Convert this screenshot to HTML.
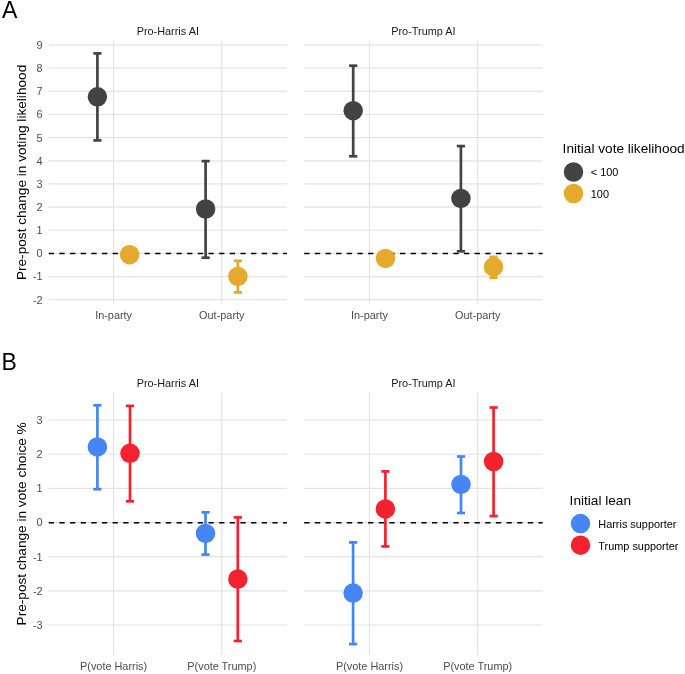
<!DOCTYPE html>
<html><head><meta charset="utf-8"><style>
html,body{margin:0;padding:0;background:#fff;}
body{width:685px;height:674px;overflow:hidden;}
svg{display:block;font-family:"Liberation Sans", sans-serif;will-change:transform;}
</style></head><body>
<svg width="685" height="674" viewBox="0 0 685 674">
<rect width="685" height="674" fill="#fff"/>
<line x1="48.7" y1="299.70" x2="286.9" y2="299.70" stroke="#E3E3E3" stroke-width="1.2"/>
<line x1="48.7" y1="276.55" x2="286.9" y2="276.55" stroke="#E3E3E3" stroke-width="1.2"/>
<line x1="48.7" y1="253.40" x2="286.9" y2="253.40" stroke="#E3E3E3" stroke-width="1.2"/>
<line x1="48.7" y1="230.25" x2="286.9" y2="230.25" stroke="#E3E3E3" stroke-width="1.2"/>
<line x1="48.7" y1="207.10" x2="286.9" y2="207.10" stroke="#E3E3E3" stroke-width="1.2"/>
<line x1="48.7" y1="183.95" x2="286.9" y2="183.95" stroke="#E3E3E3" stroke-width="1.2"/>
<line x1="48.7" y1="160.80" x2="286.9" y2="160.80" stroke="#E3E3E3" stroke-width="1.2"/>
<line x1="48.7" y1="137.65" x2="286.9" y2="137.65" stroke="#E3E3E3" stroke-width="1.2"/>
<line x1="48.7" y1="114.50" x2="286.9" y2="114.50" stroke="#E3E3E3" stroke-width="1.2"/>
<line x1="48.7" y1="91.35" x2="286.9" y2="91.35" stroke="#E3E3E3" stroke-width="1.2"/>
<line x1="48.7" y1="68.20" x2="286.9" y2="68.20" stroke="#E3E3E3" stroke-width="1.2"/>
<line x1="48.7" y1="45.05" x2="286.9" y2="45.05" stroke="#E3E3E3" stroke-width="1.2"/>
<line x1="113.6" y1="41.3" x2="113.6" y2="303.6" stroke="#E3E3E3" stroke-width="1.2"/>
<line x1="221.8" y1="41.3" x2="221.8" y2="303.6" stroke="#E3E3E3" stroke-width="1.2"/>
<line x1="48.7" y1="253.5" x2="286.9" y2="253.5" stroke="#000" stroke-width="1.4" stroke-dasharray="5.3 5.35"/>
<line x1="304.2" y1="299.70" x2="542.6" y2="299.70" stroke="#E3E3E3" stroke-width="1.2"/>
<line x1="304.2" y1="276.55" x2="542.6" y2="276.55" stroke="#E3E3E3" stroke-width="1.2"/>
<line x1="304.2" y1="253.40" x2="542.6" y2="253.40" stroke="#E3E3E3" stroke-width="1.2"/>
<line x1="304.2" y1="230.25" x2="542.6" y2="230.25" stroke="#E3E3E3" stroke-width="1.2"/>
<line x1="304.2" y1="207.10" x2="542.6" y2="207.10" stroke="#E3E3E3" stroke-width="1.2"/>
<line x1="304.2" y1="183.95" x2="542.6" y2="183.95" stroke="#E3E3E3" stroke-width="1.2"/>
<line x1="304.2" y1="160.80" x2="542.6" y2="160.80" stroke="#E3E3E3" stroke-width="1.2"/>
<line x1="304.2" y1="137.65" x2="542.6" y2="137.65" stroke="#E3E3E3" stroke-width="1.2"/>
<line x1="304.2" y1="114.50" x2="542.6" y2="114.50" stroke="#E3E3E3" stroke-width="1.2"/>
<line x1="304.2" y1="91.35" x2="542.6" y2="91.35" stroke="#E3E3E3" stroke-width="1.2"/>
<line x1="304.2" y1="68.20" x2="542.6" y2="68.20" stroke="#E3E3E3" stroke-width="1.2"/>
<line x1="304.2" y1="45.05" x2="542.6" y2="45.05" stroke="#E3E3E3" stroke-width="1.2"/>
<line x1="369.5" y1="41.3" x2="369.5" y2="303.6" stroke="#E3E3E3" stroke-width="1.2"/>
<line x1="477.7" y1="41.3" x2="477.7" y2="303.6" stroke="#E3E3E3" stroke-width="1.2"/>
<line x1="304.2" y1="253.5" x2="542.6" y2="253.5" stroke="#000" stroke-width="1.4" stroke-dasharray="5.3 5.35"/>
<text x="167.80" y="35.40" font-size="10.9" fill="#1A1A1A" text-anchor="middle">Pro-Harris AI</text>
<text x="423.40" y="35.40" font-size="10.9" fill="#1A1A1A" text-anchor="middle">Pro-Trump AI</text>
<text x="42.6" y="303.60" font-size="10.9" fill="#4D4D4D" text-anchor="end">-2</text>
<text x="42.6" y="280.45" font-size="10.9" fill="#4D4D4D" text-anchor="end">-1</text>
<text x="42.6" y="257.30" font-size="10.9" fill="#4D4D4D" text-anchor="end">0</text>
<text x="42.6" y="234.15" font-size="10.9" fill="#4D4D4D" text-anchor="end">1</text>
<text x="42.6" y="211.00" font-size="10.9" fill="#4D4D4D" text-anchor="end">2</text>
<text x="42.6" y="187.85" font-size="10.9" fill="#4D4D4D" text-anchor="end">3</text>
<text x="42.6" y="164.70" font-size="10.9" fill="#4D4D4D" text-anchor="end">4</text>
<text x="42.6" y="141.55" font-size="10.9" fill="#4D4D4D" text-anchor="end">5</text>
<text x="42.6" y="118.40" font-size="10.9" fill="#4D4D4D" text-anchor="end">6</text>
<text x="42.6" y="95.25" font-size="10.9" fill="#4D4D4D" text-anchor="end">7</text>
<text x="42.6" y="72.10" font-size="10.9" fill="#4D4D4D" text-anchor="end">8</text>
<text x="42.6" y="48.95" font-size="10.9" fill="#4D4D4D" text-anchor="end">9</text>
<text x="113.6" y="318.7" font-size="10.9" fill="#4D4D4D" text-anchor="middle">In-party</text>
<text x="221.8" y="318.7" font-size="10.9" fill="#4D4D4D" text-anchor="middle">Out-party</text>
<text x="369.5" y="318.7" font-size="10.9" fill="#4D4D4D" text-anchor="middle">In-party</text>
<text x="477.7" y="318.7" font-size="10.9" fill="#4D4D4D" text-anchor="middle">Out-party</text>
<text x="0" y="0" transform="translate(26,172.45) rotate(-90)" font-size="13.65" fill="#000" text-anchor="middle">Pre-post change in voting likelihood</text>
<line x1="97.4" y1="53.4" x2="97.4" y2="140.4" stroke="#434343" stroke-width="2.7"/>
<line x1="93.30" y1="53.4" x2="101.50" y2="53.4" stroke="#434343" stroke-width="2.7"/>
<line x1="93.30" y1="140.4" x2="101.50" y2="140.4" stroke="#434343" stroke-width="2.7"/>
<circle cx="97.4" cy="96.8" r="9.75" fill="#434343"/>
<circle cx="129.6" cy="254.7" r="9.75" fill="#E5A92E"/>
<line x1="205.6" y1="161.1" x2="205.6" y2="257.7" stroke="#434343" stroke-width="2.7"/>
<line x1="201.50" y1="161.1" x2="209.70" y2="161.1" stroke="#434343" stroke-width="2.7"/>
<line x1="201.50" y1="257.7" x2="209.70" y2="257.7" stroke="#434343" stroke-width="2.7"/>
<circle cx="205.6" cy="209" r="9.75" fill="#434343"/>
<line x1="237.9" y1="260.8" x2="237.9" y2="292.4" stroke="#E5A92E" stroke-width="2.7"/>
<line x1="233.80" y1="260.8" x2="242.00" y2="260.8" stroke="#E5A92E" stroke-width="2.7"/>
<line x1="233.80" y1="292.4" x2="242.00" y2="292.4" stroke="#E5A92E" stroke-width="2.7"/>
<circle cx="237.9" cy="276.4" r="9.75" fill="#E5A92E"/>
<line x1="353.2" y1="65.7" x2="353.2" y2="156.3" stroke="#434343" stroke-width="2.7"/>
<line x1="349.10" y1="65.7" x2="357.30" y2="65.7" stroke="#434343" stroke-width="2.7"/>
<line x1="349.10" y1="156.3" x2="357.30" y2="156.3" stroke="#434343" stroke-width="2.7"/>
<circle cx="353.2" cy="110.7" r="9.75" fill="#434343"/>
<circle cx="385.5" cy="258.4" r="9.75" fill="#E5A92E"/>
<line x1="460.9" y1="146.1" x2="460.9" y2="251.3" stroke="#434343" stroke-width="2.7"/>
<line x1="456.80" y1="146.1" x2="465.00" y2="146.1" stroke="#434343" stroke-width="2.7"/>
<line x1="456.80" y1="251.3" x2="465.00" y2="251.3" stroke="#434343" stroke-width="2.7"/>
<circle cx="460.9" cy="198.4" r="9.75" fill="#434343"/>
<line x1="493.5" y1="256.9" x2="493.5" y2="277.8" stroke="#E5A92E" stroke-width="2.7"/>
<line x1="489.40" y1="256.9" x2="497.60" y2="256.9" stroke="#E5A92E" stroke-width="2.7"/>
<line x1="489.40" y1="277.8" x2="497.60" y2="277.8" stroke="#E5A92E" stroke-width="2.7"/>
<circle cx="493.5" cy="266.9" r="9.75" fill="#E5A92E"/>
<line x1="48.7" y1="625.00" x2="286.9" y2="625.00" stroke="#E3E3E3" stroke-width="1.2"/>
<line x1="48.7" y1="590.85" x2="286.9" y2="590.85" stroke="#E3E3E3" stroke-width="1.2"/>
<line x1="48.7" y1="556.70" x2="286.9" y2="556.70" stroke="#E3E3E3" stroke-width="1.2"/>
<line x1="48.7" y1="522.55" x2="286.9" y2="522.55" stroke="#E3E3E3" stroke-width="1.2"/>
<line x1="48.7" y1="488.40" x2="286.9" y2="488.40" stroke="#E3E3E3" stroke-width="1.2"/>
<line x1="48.7" y1="454.25" x2="286.9" y2="454.25" stroke="#E3E3E3" stroke-width="1.2"/>
<line x1="48.7" y1="420.10" x2="286.9" y2="420.10" stroke="#E3E3E3" stroke-width="1.2"/>
<line x1="113.6" y1="392.7" x2="113.6" y2="655" stroke="#E3E3E3" stroke-width="1.2"/>
<line x1="221.8" y1="392.7" x2="221.8" y2="655" stroke="#E3E3E3" stroke-width="1.2"/>
<line x1="48.7" y1="522.7" x2="286.9" y2="522.7" stroke="#000" stroke-width="1.4" stroke-dasharray="5.3 5.35"/>
<line x1="304.2" y1="625.00" x2="542.6" y2="625.00" stroke="#E3E3E3" stroke-width="1.2"/>
<line x1="304.2" y1="590.85" x2="542.6" y2="590.85" stroke="#E3E3E3" stroke-width="1.2"/>
<line x1="304.2" y1="556.70" x2="542.6" y2="556.70" stroke="#E3E3E3" stroke-width="1.2"/>
<line x1="304.2" y1="522.55" x2="542.6" y2="522.55" stroke="#E3E3E3" stroke-width="1.2"/>
<line x1="304.2" y1="488.40" x2="542.6" y2="488.40" stroke="#E3E3E3" stroke-width="1.2"/>
<line x1="304.2" y1="454.25" x2="542.6" y2="454.25" stroke="#E3E3E3" stroke-width="1.2"/>
<line x1="304.2" y1="420.10" x2="542.6" y2="420.10" stroke="#E3E3E3" stroke-width="1.2"/>
<line x1="369.5" y1="392.7" x2="369.5" y2="655" stroke="#E3E3E3" stroke-width="1.2"/>
<line x1="477.7" y1="392.7" x2="477.7" y2="655" stroke="#E3E3E3" stroke-width="1.2"/>
<line x1="304.2" y1="522.7" x2="542.6" y2="522.7" stroke="#000" stroke-width="1.4" stroke-dasharray="5.3 5.35"/>
<text x="167.80" y="387.20" font-size="10.9" fill="#1A1A1A" text-anchor="middle">Pro-Harris AI</text>
<text x="423.40" y="387.20" font-size="10.9" fill="#1A1A1A" text-anchor="middle">Pro-Trump AI</text>
<text x="42.6" y="628.90" font-size="10.9" fill="#4D4D4D" text-anchor="end">-3</text>
<text x="42.6" y="594.75" font-size="10.9" fill="#4D4D4D" text-anchor="end">-2</text>
<text x="42.6" y="560.60" font-size="10.9" fill="#4D4D4D" text-anchor="end">-1</text>
<text x="42.6" y="526.45" font-size="10.9" fill="#4D4D4D" text-anchor="end">0</text>
<text x="42.6" y="492.30" font-size="10.9" fill="#4D4D4D" text-anchor="end">1</text>
<text x="42.6" y="458.15" font-size="10.9" fill="#4D4D4D" text-anchor="end">2</text>
<text x="42.6" y="424.00" font-size="10.9" fill="#4D4D4D" text-anchor="end">3</text>
<text x="113.6" y="670" font-size="10.9" fill="#4D4D4D" text-anchor="middle">P(vote Harris)</text>
<text x="221.8" y="670" font-size="10.9" fill="#4D4D4D" text-anchor="middle">P(vote Trump)</text>
<text x="369.5" y="670" font-size="10.9" fill="#4D4D4D" text-anchor="middle">P(vote Harris)</text>
<text x="477.7" y="670" font-size="10.9" fill="#4D4D4D" text-anchor="middle">P(vote Trump)</text>
<text x="0" y="0" transform="translate(26,523.85) rotate(-90)" font-size="13.65" fill="#000" text-anchor="middle">Pre-post change in vote choice %</text>
<line x1="97.4" y1="405.3" x2="97.4" y2="489.2" stroke="#4586F4" stroke-width="2.7"/>
<line x1="93.30" y1="405.3" x2="101.50" y2="405.3" stroke="#4586F4" stroke-width="2.7"/>
<line x1="93.30" y1="489.2" x2="101.50" y2="489.2" stroke="#4586F4" stroke-width="2.7"/>
<circle cx="97.4" cy="446.9" r="9.75" fill="#4586F4"/>
<line x1="130" y1="405.9" x2="130" y2="501.3" stroke="#F2222F" stroke-width="2.7"/>
<line x1="125.90" y1="405.9" x2="134.10" y2="405.9" stroke="#F2222F" stroke-width="2.7"/>
<line x1="125.90" y1="501.3" x2="134.10" y2="501.3" stroke="#F2222F" stroke-width="2.7"/>
<circle cx="130" cy="453.3" r="9.75" fill="#F2222F"/>
<line x1="205.5" y1="512.3" x2="205.5" y2="554.6" stroke="#4586F4" stroke-width="2.7"/>
<line x1="201.40" y1="512.3" x2="209.60" y2="512.3" stroke="#4586F4" stroke-width="2.7"/>
<line x1="201.40" y1="554.6" x2="209.60" y2="554.6" stroke="#4586F4" stroke-width="2.7"/>
<circle cx="205.5" cy="533.4" r="9.75" fill="#4586F4"/>
<line x1="237.8" y1="517.4" x2="237.8" y2="641" stroke="#F2222F" stroke-width="2.7"/>
<line x1="233.70" y1="517.4" x2="241.90" y2="517.4" stroke="#F2222F" stroke-width="2.7"/>
<line x1="233.70" y1="641" x2="241.90" y2="641" stroke="#F2222F" stroke-width="2.7"/>
<circle cx="237.8" cy="579.1" r="9.75" fill="#F2222F"/>
<line x1="353.1" y1="542.4" x2="353.1" y2="644.1" stroke="#4586F4" stroke-width="2.7"/>
<line x1="349.00" y1="542.4" x2="357.20" y2="542.4" stroke="#4586F4" stroke-width="2.7"/>
<line x1="349.00" y1="644.1" x2="357.20" y2="644.1" stroke="#4586F4" stroke-width="2.7"/>
<circle cx="353.1" cy="593.1" r="9.75" fill="#4586F4"/>
<line x1="385.4" y1="471.4" x2="385.4" y2="546.4" stroke="#F2222F" stroke-width="2.7"/>
<line x1="381.30" y1="471.4" x2="389.50" y2="471.4" stroke="#F2222F" stroke-width="2.7"/>
<line x1="381.30" y1="546.4" x2="389.50" y2="546.4" stroke="#F2222F" stroke-width="2.7"/>
<circle cx="385.4" cy="508.9" r="9.75" fill="#F2222F"/>
<line x1="461" y1="456.5" x2="461" y2="513" stroke="#4586F4" stroke-width="2.7"/>
<line x1="456.90" y1="456.5" x2="465.10" y2="456.5" stroke="#4586F4" stroke-width="2.7"/>
<line x1="456.90" y1="513" x2="465.10" y2="513" stroke="#4586F4" stroke-width="2.7"/>
<circle cx="461" cy="484.4" r="9.75" fill="#4586F4"/>
<line x1="493.6" y1="407.5" x2="493.6" y2="516.1" stroke="#F2222F" stroke-width="2.7"/>
<line x1="489.50" y1="407.5" x2="497.70" y2="407.5" stroke="#F2222F" stroke-width="2.7"/>
<line x1="489.50" y1="516.1" x2="497.70" y2="516.1" stroke="#F2222F" stroke-width="2.7"/>
<circle cx="493.6" cy="461.5" r="9.75" fill="#F2222F"/>
<text x="1.9" y="18.1" font-size="23" fill="#000">A</text>
<text x="1.5" y="369.9" font-size="23" fill="#000">B</text>
<text x="562.6" y="153" font-size="13.65" fill="#000">Initial vote likelihood</text>
<circle cx="573.5" cy="172" r="9.75" fill="#434343"/>
<circle cx="573.5" cy="193.5" r="9.75" fill="#E5A92E"/>
<text x="590.8" y="176" font-size="10.9" fill="#000">&lt; 100</text>
<text x="590.8" y="197.7" font-size="10.9" fill="#000">100</text>
<text x="569.6" y="504.8" font-size="13.65" fill="#000">Initial lean</text>
<circle cx="580.5" cy="523.6" r="9.75" fill="#4586F4"/>
<circle cx="580.5" cy="545.2" r="9.75" fill="#F2222F"/>
<text x="598.3" y="527.9" font-size="10.9" fill="#000">Harris supporter</text>
<text x="598.3" y="549.6" font-size="10.9" fill="#000">Trump supporter</text>
</svg>
</body></html>
